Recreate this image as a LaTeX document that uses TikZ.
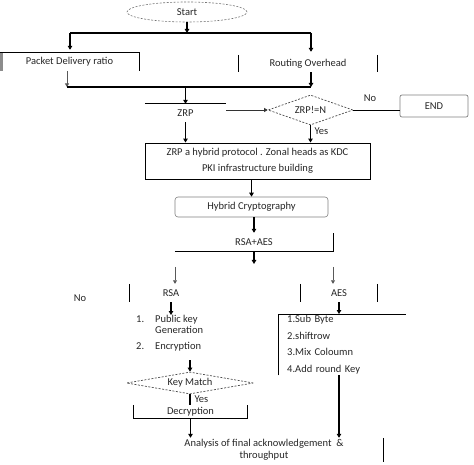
\documentclass[tikz,border=0pt]{standalone}
\usepackage{fontspec}
\setmainfont{Carlito}
\usetikzlibrary{shapes.geometric,arrows.meta}
\begin{document}
\begin{tikzpicture}[x=1pt,y=-1pt,
  txt/.style={font=\fontsize{10.5}{12.5}\selectfont, text=black!85},
  plain/.style={txt, inner sep=0pt},
  arr/.style={line width=1.1pt, -{Triangle[length=4pt,width=4.5pt]}},
  thinarr/.style={line width=0.7pt, draw=black!65, -{Triangle[length=3.5pt,width=4pt]}},
  ln/.style={line width=1.1pt},
  edge/.style={line width=0.9pt},
  dia/.style={txt, diamond, draw=black!70, dashed, dash pattern=on 2pt off 1.5pt, line width=0.7pt, inner sep=0pt}
]
\useasboundingbox (0,0) rectangle (474,465);

% Start
\node[txt, ellipse, draw=black!55, dashed, dash pattern=on 2pt off 1.5pt, line width=0.6pt,
      minimum width=120pt, minimum height=20pt, inner sep=0pt] (start) at (187,12) {Start};
\coordinate (j1) at (187,33);
\coordinate (jl) at (70,33);
\coordinate (jr) at (311,33);
\draw[arr] (start.south) -- (j1);
\draw[ln] (jl) -- (jr);

% Packet Delivery ratio
\node[plain, minimum width=139pt, minimum height=18pt] (pdr) at (69.5,62) {Packet Delivery ratio};
\draw[edge] (pdr.north west) -- (pdr.north east) -- (pdr.south east);
\draw[line width=3pt, draw=black!45] ([xshift=1.5pt]pdr.north west) -- ([xshift=1.5pt]pdr.south west);
\draw[arr, shorten >=3pt] (jl) -- (jl |- pdr.north);

% Routing Overhead
\node[plain, minimum width=138pt, minimum height=17pt] (ro) at (308,63.5) {Routing Overhead};
\draw[edge] (ro.north west) -- (ro.south west);
\draw[edge] (ro.north east) -- (ro.south east);
\draw[arr, shorten >=3pt] (jr) -- (jr |- ro.north);

% merge
\coordinate (k1) at (67,87);
\coordinate (k2) at (311,87);
\coordinate (k0) at (185.5,87);
\draw[thinarr] (pdr.south -| k1) -- (k1);
\draw[arr] (ro.south -| k2) -- (k2);
\draw[ln] (k1) -- (k2);

% ZRP
\node[plain, minimum width=81pt, minimum height=18pt] (zrp) at (185.5,113) {ZRP};
\draw[edge] (zrp.north west) -- (zrp.north east);
\draw[arr] (k0) -- (zrp.north);

% ZRP!=N decision
\node[dia, aspect=2.83, minimum width=85pt, minimum height=30pt] (d1) at (310.5,110) {ZRP!=N};
\draw[thinarr, draw=black!80] (zrp.east |- d1.west) -- (d1.west);

% END
\node[txt, draw=black!50, rounded corners=2pt, line width=0.7pt,
      minimum width=68pt, minimum height=22pt, inner sep=0pt] (end) at (434,106) {END};
\draw[edge] (d1.east) -- (end.west |- d1.east);
\node[txt] at (370,98) {No};

% ZRP hybrid protocol box
\node[txt, draw, line width=0.9pt, align=center, minimum width=225pt, minimum height=36pt, inner sep=0pt] (zh)
  at (257.5,161) {ZRP a hybrid protocol . Zonal heads as KDC\\[4pt]PKI infrastructure building};
\draw[arr] (zrp.south) -- (zrp.south |- zh.north);
\draw[arr] (d1.south) -- (d1.south |- zh.north);
\node[txt, anchor=west] at (311,131) {Yes};

% Hybrid Cryptography
\node[txt, draw=black!50, rounded corners=3pt, line width=0.6pt,
      minimum width=153pt, minimum height=20pt, inner sep=0pt] (hc) at (251.5,207) {Hybrid Cryptography};
\draw[arr] (zh.south -| hc.north) -- (hc.north);

% RSA+AES
\node[plain, minimum width=158pt, minimum height=18pt] (ra) at (254,242) {RSA+AES};
\draw[edge] (ra.south west) -- (ra.south east) -- (ra.north east);
\draw[arr] (hc.south -| ra.north) -- (ra.north);
\coordinate (m0) at (254,264);
\draw[arr] (ra.south) -- (m0);

% RSA
\coordinate (rtop) at (175,267);
\coordinate (atop) at (333,267);
\node[plain, minimum width=82pt, minimum height=18pt] (rsa) at (171,293) {RSA};
\draw[edge] (rsa.north west) -- (rsa.south west);
\draw[thinarr] (rtop) -- (rtop |- rsa.north);
\node[txt] at (80,298) {No};

% AES
\node[plain, minimum width=76pt, minimum height=18pt] (aes) at (339,293) {AES};
\draw[edge] (aes.north west) -- (aes.south west);
\draw[edge] (aes.north east) -- (aes.south east);
\draw[thinarr] (atop) -- (atop |- aes.north);

% RSA steps
\node[txt, anchor=north west, inner sep=0pt] (rl) at (136,315)
  {\fontsize{10.5}{10.5}\selectfont\begin{tabular}{@{}l@{\hspace{11pt}}l@{}}1. & Public key\\ & Generation\\[6pt] 2. & Encryption\end{tabular}};
\draw[arr] (rsa.south) -- (rsa.south |- rl.north);

% Key Match
\node[dia, aspect=5.77, minimum width=127pt, minimum height=22pt] (km) at (190,383) {Key Match};
\coordinate (c1) at (190,360);
\draw[arr] (c1) -- (km.north);

% Decryption
\node[plain, minimum width=113pt, minimum height=13pt] (dec) at (190.5,411.5) {Decryption};
\draw[edge] (dec.north west) -- (dec.south west) -- (dec.south east) -- (dec.north east);
\draw[ln] (km.south) -- (km.south |- dec.north);
\node[txt, anchor=west] at (191,399) {Yes};

% AES steps
\node[txt, anchor=north west, align=left, minimum width=128pt, minimum height=61pt,
      inner xsep=9pt, inner ysep=0pt, text width=110pt] (al) at (278,314)
  {1.Sub Byte\\[4pt]2.shiftrow\\[4pt]3.Mix Coloumn\\[4pt]4.Add round Key};
\draw[edge] (al.south west) -- (al.north west) -- (al.north east);
\draw[arr] (aes.south) -- (aes.south |- al.north);

% Final
\node[txt, align=center, minimum width=238pt, minimum height=24pt, inner sep=0pt] (fin) at (264,450)
  {Analysis of final acknowledgement \ \&\\throughput};
\draw[edge] (fin.north east) -- (fin.south east);
\draw[arr] (dec.south) -- (dec.south |- fin.north);
\draw[arr] (aes.south |- al.south) -- (aes.south |- fin.north);
\end{tikzpicture}
\end{document}
